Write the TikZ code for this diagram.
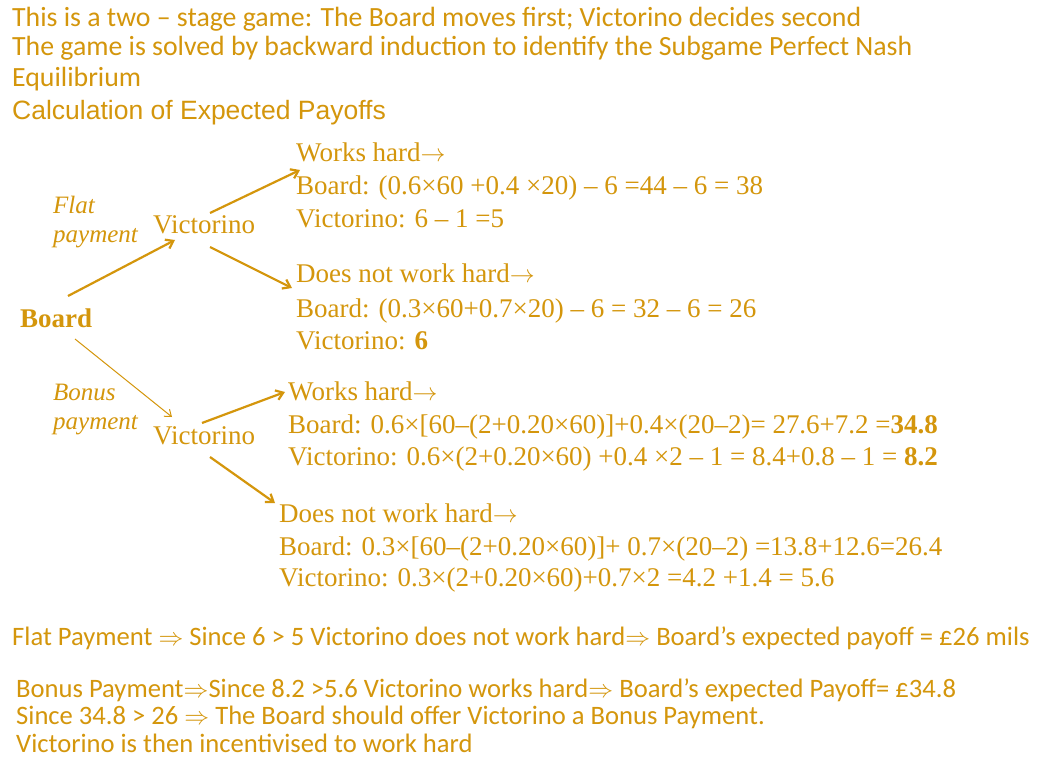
\documentclass[tikz,border=0pt]{standalone}
\usepackage{fontspec}
\setmainfont{Liberation Serif}
\newfontfamily\calfnt{Carlito}
\newfontfamily\arifnt{Liberation Sans}
\usetikzlibrary{arrows.meta}
\definecolor{gold}{HTML}{D4960C}
\begin{document}
\begin{tikzpicture}[x=1pt,y=-1pt,every node/.style={inner sep=0pt,anchor=base west,text=gold},
 tr/.style={font=\fontsize{27}{30}\selectfont},
 tp/.style={font=\calfnt\fontsize{27.8}{30}\selectfont},
 tq/.style={font=\calfnt\fontsize{26.6}{30}\selectfont},
 it/.style={font=\fontsize{25}{28}\selectfont\itshape},
 arr/.style={draw=gold,line width=2.2pt,-{Straight Barb[length=7pt,width=10pt]}},
 thin/.style={draw=gold,line width=1pt,-{Straight Barb[length=6pt,width=9pt]}}]
\useasboundingbox[fill=white] (0,0) rectangle (1042,770);
\node[tp] (t1) at (12,27) {This is a two – stage game: The Board moves first; Victorino decides second};
\node[tp] (t2) at (12,56) {The game is solved by backward induction to identify the Subgame Perfect Nash};
\node[tp] (t3) at (12,87) {Equilibrium};
\node[font=\arifnt\fontsize{26.5}{30}\selectfont] (t4) at (12,120) {Calculation of Expected Payoffs};
\node[font=\fontsize{27}{30}\selectfont\bfseries] (b) at (20,327) {Board};
\node[tr] (v1) at (153,234) {Victorino};
\node[tr] (v2) at (153,444) {Victorino};
\node[it] (f1) at (53,214) {Flat};
\node[it] (f2) at (53,243) {payment};
\node[it] (p1) at (53,400) {Bonus};
\node[it] (p2) at (53,429) {payment};
\node[tr] (a1) at (296,162) {Works hard$\rightarrow$};
\node[tr] (a2) at (296,195) {Board: (0.6×60 +0.4 ×20) – 6 =44 – 6 = 38};
\node[tr] (a3) at (296,228) {Victorino: 6 – 1 =5};
\node[tr] (c1) at (296,283) {Does not work hard$\rightarrow$};
\node[tr] (c2) at (296,317) {Board: (0.3×60+0.7×20) – 6 = 32 – 6 = 26};
\node[tr] (c3) at (296,349) {Victorino: \textbf{6}};
\node[tr] (d1) at (288,400) {Works hard$\rightarrow$};
\node[tr] (d2) at (288,433) {Board: 0.6×[60–(2+0.20×60)]+0.4×(20–2)= 27.6+7.2 =\textbf{34.8}};
\node[tr] (d3) at (288,465) {Victorino: 0.6×(2+0.20×60) +0.4 ×2 – 1 = 8.4+0.8 – 1 = \textbf{8.2}};
\node[tr] (e1) at (279,522) {Does not work hard$\rightarrow$};
\node[tr] (e2) at (279,555) {Board: 0.3×[60–(2+0.20×60)]+ 0.7×(20–2) =13.8+12.6=26.4};
\node[tr] (e3) at (279,586) {Victorino: 0.3×(2+0.20×60)+0.7×2 =4.2 +1.4 = 5.6};
\node[tq] (s1) at (12,645) {Flat Payment $\Rightarrow$ Since 6 > 5 Victorino does not work hard$\Rightarrow$ Board’s expected payoff = £26 mils};
\node[tq] (s2) at (16,697) {Bonus Payment$\Rightarrow$Since 8.2 >5.6 Victorino works hard$\Rightarrow$ Board’s expected Payoff= £34.8};
\node[tq] (s3) at (16,724) {Since 34.8 > 26 $\Rightarrow$ The Board should offer Victorino a Bonus Payment.};
\node[tq] (s4) at (16,752) {Victorino is then incentivised to work hard};
\coordinate (o1) at (68,296); \coordinate (o2) at (75,339);
\coordinate (u1) at (210,213); \coordinate (u2) at (210,247);
\coordinate (l1) at (202,423); \coordinate (l2) at (210,457);
\coordinate (v1in) at (175,240); \coordinate (v2in) at (172,417);
\coordinate (a1in) at (300,170); \coordinate (c1in) at (292,288);
\coordinate (d1in) at (285,392); \coordinate (e1in) at (275,503);
\draw[arr] (o1) -- (v1in);
\draw[thin] (o2) -- (v2in);
\draw[arr] (u1) -- (a1in);
\draw[arr] (u2) -- (c1in);
\draw[arr] (l1) -- (d1in);
\draw[arr] (l2) -- (e1in);
\end{tikzpicture}
\end{document}
